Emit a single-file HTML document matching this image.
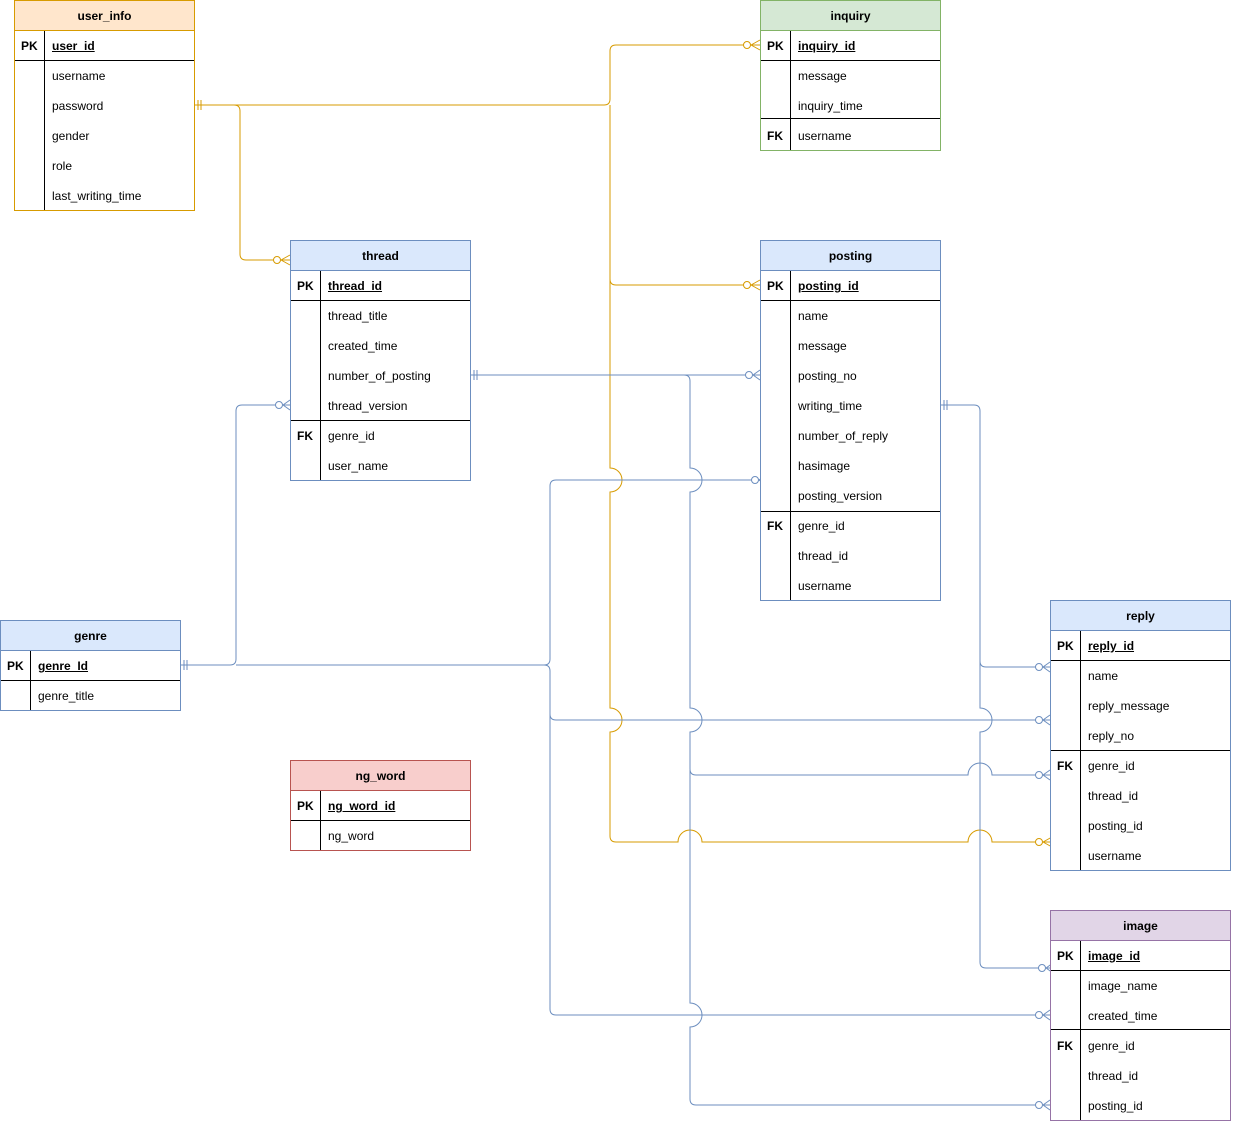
<!DOCTYPE html>
<html><head><meta charset="utf-8">
<style>
body{margin:0;width:1233px;height:1121px;background:#fff;position:relative;overflow:hidden;font-family:"Liberation Sans",Helvetica,Arial,sans-serif;font-size:12px;color:#000}
.t{position:absolute;width:181px;box-sizing:border-box;border:1px solid;background:#fff}
.h{position:absolute;left:0;top:0;right:0;height:29px;line-height:31px;text-align:center;font-weight:bold;border-bottom:1px solid}
.v{position:absolute;left:29px;top:30px;bottom:0;border-left:1px solid}
.s{position:absolute;left:0;right:0;border-top:1px solid #000}
.r{position:absolute;left:0;right:0;height:30px;line-height:30px}
.k{position:absolute;left:6px;font-weight:bold}
.n{position:absolute;left:37px}
.u{text-decoration:underline;font-weight:bold}
svg{position:absolute;left:0;top:0}
</style></head><body>
<svg width="1233" height="1121" fill="none" stroke-width="1">
<g stroke="#d79b00">
<path d="M194 105 H604 Q610 105 610 99 V51 Q610 45 616 45 H760"/>
<path d="M610 105 V468 A12 12 0 0 1 610 492 V708 A12 12 0 0 1 610 732 V836 Q610 842 616 842 H678 A12 12 0 0 1 702 842 H968 A12 12 0 0 1 992 842 H1050"/>
<path d="M610 111 V279 Q610 285 616 285 H760"/>
<path d="M234 105 Q240 105 240 111 V254 Q240 260 246 260 H290"/>
<path d="M198 100 V110 M201 100 V110"/>
</g>
<g stroke="#6c8ebf">
<path d="M470 375 H760"/>
<path d="M684 375 Q690 375 690 381 V468 A12 12 0 0 1 690 492 V708 A12 12 0 0 1 690 732 V769 Q690 775 696 775 H968 A12 12 0 0 1 992 775 H1050"/>
<path d="M690 770 V1003 A12 12 0 0 1 690 1027 V1099 Q690 1105 696 1105 H1050"/>
<path d="M180 665 H230 Q236 665 236 659 V411 Q236 405 242 405 H290"/>
<path d="M236 665 H544 Q550 665 550 659 V486 Q550 480 556 480 H760"/>
<path d="M544 665 Q550 665 550 671 V714 Q550 720 556 720 H1050"/>
<path d="M550 714 V1009 Q550 1015 556 1015 H1050"/>
<path d="M940 405 H974 Q980 405 980 411 V661 Q980 667 986 667 H1050"/>
<path d="M980 661 V708 A12 12 0 0 1 980 732 V962 Q980 968 986 968 H1050"/>
<path d="M474 370 V380 M477 370 V380 M184 660 V670 M187 660 V670 M944 400 V410 M947 400 V410"/>
</g>
<g stroke="#d79b00">
<circle cx="277" cy="260" r="3.5" fill="#fff"/><path d="M281 260 L290 255 M281 260 L290 265 M281 260 H290"/>
<circle cx="747" cy="45" r="3.5" fill="#fff"/><path d="M751 45 L760 40 M751 45 L760 50"/>
<circle cx="747" cy="285" r="3.5" fill="#fff"/><path d="M751 285 L760 280 M751 285 L760 290"/>
<circle cx="1039" cy="842" r="3.5" fill="#fff"/><path d="M1043 842 L1052 837 M1043 842 L1052 847"/>
</g>
<g stroke="#6c8ebf">
<circle cx="279" cy="405" r="3.5" fill="#fff"/><path d="M283 405 L290 400 M283 405 L290 410"/>
<circle cx="749" cy="375" r="3.5" fill="#fff"/><path d="M753 375 L760 370 M753 375 L760 380"/>
<circle cx="755" cy="480" r="3.5" fill="#fff"/><path d="M759 480 L766 475 M759 480 L766 485"/>
<circle cx="1039" cy="667" r="3.5" fill="#fff"/><path d="M1043 667 L1050 662 M1043 667 L1050 672"/>
<circle cx="1039" cy="720" r="3.5" fill="#fff"/><path d="M1043 720 L1050 715 M1043 720 L1050 725"/>
<circle cx="1039" cy="775" r="3.5" fill="#fff"/><path d="M1043 775 L1050 770 M1043 775 L1050 780"/>
<circle cx="1042" cy="968" r="3.5" fill="#fff"/><path d="M1046 968 L1053 963 M1046 968 L1053 973"/>
<circle cx="1039" cy="1015" r="3.5" fill="#fff"/><path d="M1043 1015 L1050 1010 M1043 1015 L1050 1020"/>
<circle cx="1039" cy="1105" r="3.5" fill="#fff"/><path d="M1043 1105 L1050 1100 M1043 1105 L1050 1110"/>
</g>
</svg>

<div class="t" style="left:14px;top:0;height:211px;border-color:#d79b00">
<div class="h" style="background:#ffe6cc;border-color:#d79b00">user_info</div>
<div class="v"></div><div class="s" style="top:59px"></div>
<div class="r" style="top:30px"><span class="k">PK</span><span class="n u">user_id</span></div>
<div class="r" style="top:60px"><span class="n">username</span></div>
<div class="r" style="top:90px"><span class="n">password</span></div>
<div class="r" style="top:120px"><span class="n">gender</span></div>
<div class="r" style="top:150px"><span class="n">role</span></div>
<div class="r" style="top:180px"><span class="n">last_writing_time</span></div>
</div>

<div class="t" style="left:760px;top:0;height:151px;border-color:#82b366">
<div class="h" style="background:#d5e8d4;border-color:#82b366">inquiry</div>
<div class="v"></div><div class="s" style="top:59px"></div><div class="s" style="top:117px"></div>
<div class="r" style="top:30px"><span class="k">PK</span><span class="n u">inquiry_id</span></div>
<div class="r" style="top:60px"><span class="n">message</span></div>
<div class="r" style="top:90px"><span class="n">inquiry_time</span></div>
<div class="r" style="top:120px"><span class="k">FK</span><span class="n">username</span></div>
</div>

<div class="t" style="left:290px;top:240px;height:241px;border-color:#6c8ebf">
<div class="h" style="background:#dae8fc;border-color:#6c8ebf">thread</div>
<div class="v"></div><div class="s" style="top:59px"></div><div class="s" style="top:179px"></div>
<div class="r" style="top:30px"><span class="k">PK</span><span class="n u">thread_id</span></div>
<div class="r" style="top:60px"><span class="n">thread_title</span></div>
<div class="r" style="top:90px"><span class="n">created_time</span></div>
<div class="r" style="top:120px"><span class="n">number_of_posting</span></div>
<div class="r" style="top:150px"><span class="n">thread_version</span></div>
<div class="r" style="top:180px"><span class="k">FK</span><span class="n">genre_id</span></div>
<div class="r" style="top:210px"><span class="n">user_name</span></div>
</div>

<div class="t" style="left:760px;top:240px;height:361px;border-color:#6c8ebf">
<div class="h" style="background:#dae8fc;border-color:#6c8ebf">posting</div>
<div class="v"></div><div class="s" style="top:59px"></div><div class="s" style="top:270px"></div>
<div class="r" style="top:30px"><span class="k">PK</span><span class="n u">posting_id</span></div>
<div class="r" style="top:60px"><span class="n">name</span></div>
<div class="r" style="top:90px"><span class="n">message</span></div>
<div class="r" style="top:120px"><span class="n">posting_no</span></div>
<div class="r" style="top:150px"><span class="n">writing_time</span></div>
<div class="r" style="top:180px"><span class="n">number_of_reply</span></div>
<div class="r" style="top:210px"><span class="n">hasimage</span></div>
<div class="r" style="top:240px"><span class="n">posting_version</span></div>
<div class="r" style="top:270px"><span class="k">FK</span><span class="n">genre_id</span></div>
<div class="r" style="top:300px"><span class="n">thread_id</span></div>
<div class="r" style="top:330px"><span class="n">username</span></div>
</div>

<div class="t" style="left:0;top:620px;height:91px;border-color:#6c8ebf">
<div class="h" style="background:#dae8fc;border-color:#6c8ebf">genre</div>
<div class="v"></div><div class="s" style="top:59px"></div>
<div class="r" style="top:30px"><span class="k">PK</span><span class="n u">genre_Id</span></div>
<div class="r" style="top:60px"><span class="n">genre_title</span></div>
</div>

<div class="t" style="left:290px;top:760px;height:91px;border-color:#b85450">
<div class="h" style="background:#f8cecc;border-color:#b85450">ng_word</div>
<div class="v"></div><div class="s" style="top:59px"></div>
<div class="r" style="top:30px"><span class="k">PK</span><span class="n u">ng_word_id</span></div>
<div class="r" style="top:60px"><span class="n">ng_word</span></div>
</div>

<div class="t" style="left:1050px;top:600px;height:271px;border-color:#6c8ebf">
<div class="h" style="background:#dae8fc;border-color:#6c8ebf">reply</div>
<div class="v"></div><div class="s" style="top:59px"></div><div class="s" style="top:149px"></div>
<div class="r" style="top:30px"><span class="k">PK</span><span class="n u">reply_id</span></div>
<div class="r" style="top:60px"><span class="n">name</span></div>
<div class="r" style="top:90px"><span class="n">reply_message</span></div>
<div class="r" style="top:120px"><span class="n">reply_no</span></div>
<div class="r" style="top:150px"><span class="k">FK</span><span class="n">genre_id</span></div>
<div class="r" style="top:180px"><span class="n">thread_id</span></div>
<div class="r" style="top:210px"><span class="n">posting_id</span></div>
<div class="r" style="top:240px"><span class="n">username</span></div>
</div>

<div class="t" style="left:1050px;top:910px;height:211px;border-color:#9673a6">
<div class="h" style="background:#e1d5e7;border-color:#9673a6">image</div>
<div class="v"></div><div class="s" style="top:59px"></div><div class="s" style="top:118px"></div>
<div class="r" style="top:30px"><span class="k">PK</span><span class="n u">image_id</span></div>
<div class="r" style="top:60px"><span class="n">image_name</span></div>
<div class="r" style="top:90px"><span class="n">created_time</span></div>
<div class="r" style="top:120px"><span class="k">FK</span><span class="n">genre_id</span></div>
<div class="r" style="top:150px"><span class="n">thread_id</span></div>
<div class="r" style="top:180px"><span class="n">posting_id</span></div>
</div>
</body></html>
